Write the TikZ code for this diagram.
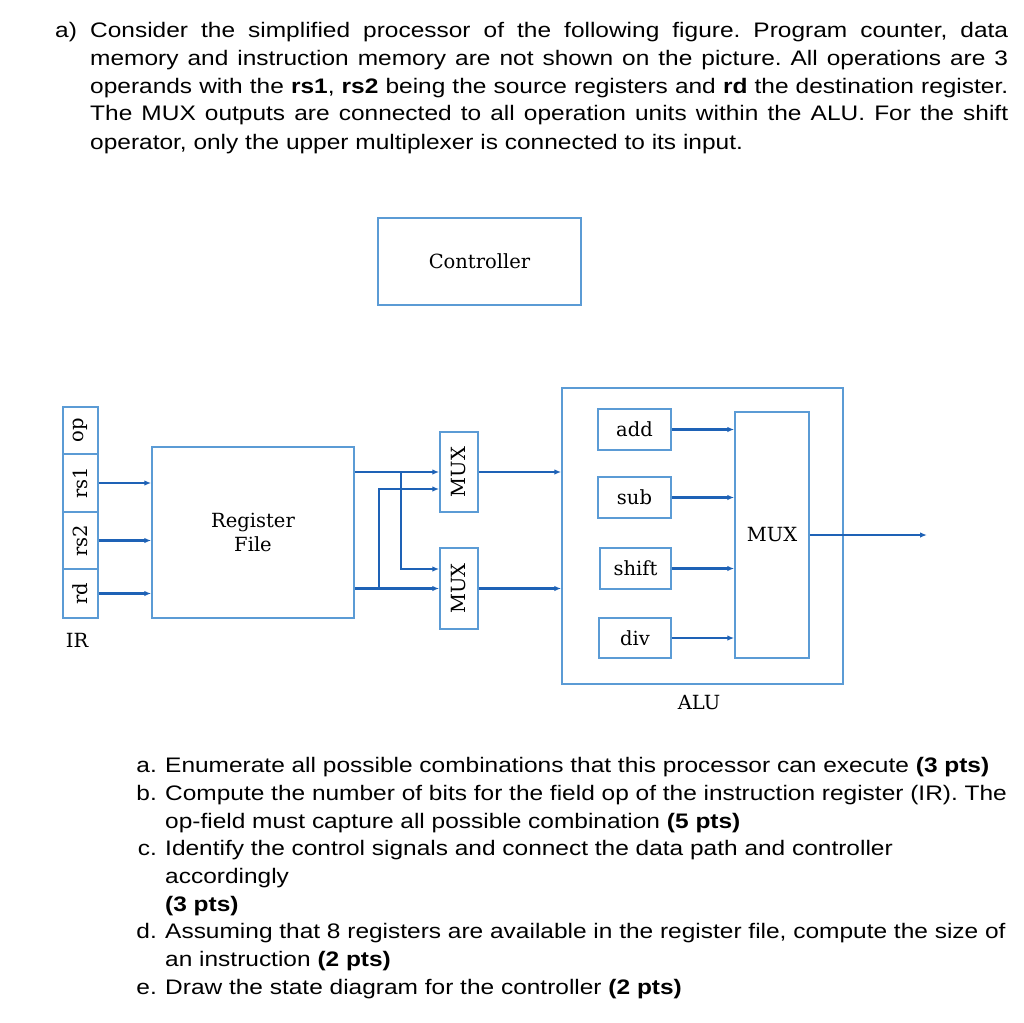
\documentclass[tikz,border=0pt]{standalone}
\usepackage{fontspec}
\usepackage{tikz}
\usetikzlibrary{arrows.meta,shapes,positioning,calc}
\newfontfamily\qfont[FakeStretch=1.165]{Liberation Sans}
\newfontfamily\unitfont{DejaVu Serif}
\definecolor{boxblue}{RGB}{91,155,213}
\definecolor{wireblue}{RGB}{30,98,182}
\frenchspacing

\begin{document}
\begin{tikzpicture}[x=1pt, y=-1pt,
    txt/.style={font=\qfont\fontsize{21}{27.7}\selectfont, inner sep=0pt, anchor=base west},
    num/.style={txt, anchor=base east},
    lbl/.style={font=\unitfont\fontsize{19.5}{24}\selectfont, inner sep=0pt},
    unit/.style={rectangle, draw=boxblue, line width=1.5pt, lbl},
    field/.style={unit, rotate=90, minimum height=35pt},
    arrow/.style={-{Latex[length=7pt,width=5.5pt]}, draw=wireblue, line width=2.4pt}
]
    \useasboundingbox (0,0) rectangle (1024,1022);

    % question text
    \node[txt] (qa) at (55,38) {a)};
    \node[txt] (q1) at (90,38) {\makebox[918pt][s]{Consider the simplified processor of the following figure. Program counter, data}};
    \node[txt] (q2) at (90,66) {\makebox[918pt][s]{memory and instruction memory are not shown on the picture. All operations are 3}};
    \node[txt] (q3) at (90,94) {\makebox[918pt][s]{operands with the \textbf{rs1}, \textbf{rs2} being the source registers and \textbf{rd} the destination register.}};
    \node[txt] (q4) at (90,121) {\makebox[918pt][s]{The MUX outputs are connected to all operation units within the ALU. For the shift}};
    \node[txt] (q5) at (90,149) {operator, only the upper multiplexer is connected to its input.};

    % controller
    \node[unit, minimum width=203pt, minimum height=87pt] (ctrl) at (479.5,261.5) {Controller};

    % instruction register
    \node[field, minimum width=47pt] (op) at (80.5,430.5) {op};
    \node[field, minimum width=58pt] (rs1) at (80.5,483) {rs1};
    \node[field, minimum width=57pt] (rs2) at (80.5,540.5) {rs2};
    \node[field, minimum width=49pt] (rd) at (80.5,593.5) {rd};
    \node[lbl] (ir) at (77,640) {IR};

    \node[unit, minimum width=202pt, minimum height=171pt, align=center] (regfile) at (253,532.5) {Register\\File};

    % operand multiplexers
    \node[unit, rotate=90, minimum width=80pt, minimum height=38pt] (mux1) at (459,472) {MUX};
    \node[unit, rotate=90, minimum width=81pt, minimum height=38pt] (mux2) at (459,588.5) {MUX};

    % ALU
    \node[unit, minimum width=281pt, minimum height=296pt] (alu) at (702.5,536) {};
    \node[lbl] (alulbl) at (699,703) {ALU};
    \node[unit, minimum width=73pt, minimum height=41pt] (add) at (634.5,429.5) {add};
    \node[unit, minimum width=73pt, minimum height=41pt] (sub) at (634.5,497.5) {sub};
    \node[unit, minimum width=71pt, minimum height=41pt] (shift) at (635.5,568.5) {shift};
    \node[unit, minimum width=72pt, minimum height=40pt] (div) at (635,638) {div};
    \node[unit, minimum width=74pt, minimum height=246pt] (amux) at (772,535) {MUX};
    \coordinate (out) at (927,535);

    \draw[arrow] (rs1.south) -- (rs1.south -| regfile.west);
    \draw[arrow] (rs2.south) -- (rs2.south -| regfile.west);
    \draw[arrow] (rd.south) -- (rd.south -| regfile.west);

    \draw[arrow] (regfile.east |- mux1) -- (mux1.north);
    \draw[arrow] (regfile.east |- mux2) -- (mux2.north);
    \coordinate (tapa) at (401,472);
    \coordinate (tapb) at (379,588.5);
    \draw[arrow] (tapa) |- ([yshift=19.5pt]mux2.north);
    \draw[arrow] (tapb) |- ([yshift=-17pt]mux1.north);

    \draw[arrow] (mux1.south) -- (mux1.south -| alu.west);
    \draw[arrow] (mux2.south) -- (mux2.south -| alu.west);

    \draw[arrow] (add.east) -- (add.east -| amux.west);
    \draw[arrow] (sub.east) -- (sub.east -| amux.west);
    \draw[arrow] (shift.east) -- (shift.east -| amux.west);
    \draw[arrow] (div.east) -- (div.east -| amux.west);
    \draw[arrow] (amux.east) -- (out);

    % sub-questions
    \node[num] (la) at (157,772) {a.};
    \node[txt] (ta) at (165,772) {Enumerate all possible combinations that this processor can execute \textbf{(3 pts)}};
    \node[num] (lb) at (157,800) {b.};
    \node[txt] (tb) at (165,800) {Compute the number of bits for the field op of the instruction register (IR). The};
    \node[txt] (tb2) at (165,828) {op-field must capture all possible combination \textbf{(5 pts)}};
    \node[num] (lc) at (157,855) {c.};
    \node[txt] (tc) at (165,855) {Identify the control signals and connect the data path and controller};
    \node[txt] (tc2) at (165,883) {accordingly};
    \node[txt] (tc3) at (165,911) {\textbf{(3 pts)}};
    \node[num] (ld) at (157,938) {d.};
    \node[txt] (td) at (165,938) {Assuming that 8 registers are available in the register file, compute the size of};
    \node[txt] (td2) at (165,966) {an instruction \textbf{(2 pts)}};
    \node[num] (le) at (157,994) {e.};
    \node[txt] (te) at (165,994) {Draw the state diagram for the controller \textbf{(2 pts)}};
\end{tikzpicture}
\end{document}
